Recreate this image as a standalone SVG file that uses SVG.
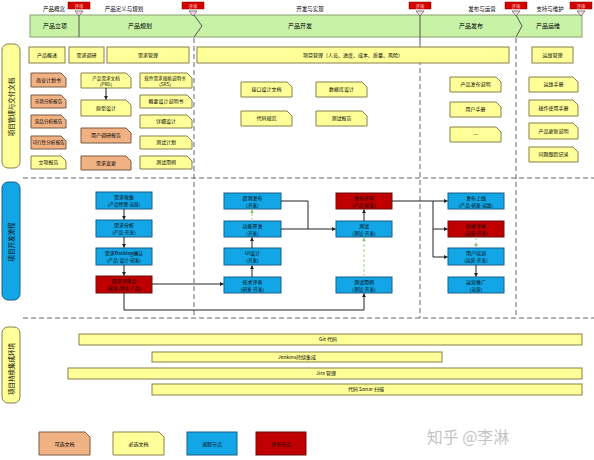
<svg xmlns="http://www.w3.org/2000/svg" width="594" height="460" viewBox="0 0 594 460">
<style>
text{font-family:"Noto Sans CJK SC","Liberation Sans",sans-serif;font-size:5px;text-anchor:middle;fill:#000}
.y{fill:#ffff99;stroke:#85804a;stroke-width:1}
.o{fill:#f0b183;stroke:#7a5a40;stroke-width:1}
.b{fill:#12a6e6;stroke:#1d5f86;stroke-width:1}
.r{fill:#c00000;stroke:#6a1010;stroke-width:1}
.dl{stroke:#666;stroke-width:1;stroke-dasharray:5,3;fill:none}
.c{stroke:#222;stroke-width:1;fill:none}
.g{stroke:#9fd48a;stroke-width:1;stroke-dasharray:3,2;fill:none}
.tag{fill:#d40000;stroke:#800;stroke-width:0.5}
.tri{fill:#ffd8e6;stroke:#555;stroke-width:0.7}
.ml{font-size:5.5px}
.ph{font-size:6px}
.lab{font-size:6.5px}
.tt{font-size:4.5px;fill:#ffd0d0}
.s{font-size:4.6px}
</style>
<defs>
<marker id="a" viewBox="0 0 6 6" refX="5.5" refY="3" markerWidth="4" markerHeight="4" orient="auto"><path d="M0,0L6,3L0,6Z" fill="#222"/></marker>
<marker id="ag" viewBox="0 0 6 6" refX="5.5" refY="3" markerWidth="4" markerHeight="4" orient="auto"><path d="M0,0L6,3L0,6Z" fill="#8cc870"/></marker>
</defs>
<rect width="594" height="460" fill="#fff"/>

<!-- header -->
<g id="phases">
<rect x="30" y="15" width="552" height="22" fill="#c8f2a6" stroke="#8aa070"/>
<line x1="79" y1="12" x2="79" y2="37" stroke="#555"/>
<line x1="420" y1="12" x2="420" y2="44" stroke="#555"/>
<line x1="581" y1="12" x2="581" y2="15" stroke="#555"/>
<polyline points="194,15 202,26 194,37" fill="none" stroke="#555"/>
<polyline points="516,15 522,26 516,37" fill="none" stroke="#555"/>
<text class="ph" x="55" y="28">产品立项</text>
<text class="ph" x="140" y="28">产品规划</text>
<text class="ph" x="300" y="28">产品开发</text>
<text class="ph" x="471" y="28">产品发布</text>
<text class="ph" x="548" y="28">产品运维</text>
</g>
<g id="milestones">
<text class="ml" x="54" y="11">产品概念</text>
<text class="ml" x="124" y="11">产品定义与规划</text>
<text class="ml" x="310" y="11">开发与实现</text>
<text class="ml" x="482" y="11">发布与运营</text>
<text class="ml" x="550" y="11">支持与维护</text>
<rect class="tag" x="68" y="2" width="22" height="7"/><text class="tt" x="79" y="7.5">评审</text>
<rect class="tag" x="182" y="2" width="22" height="7"/><text class="tt" x="193" y="7.5">评审</text>
<rect class="tag" x="409" y="2" width="22" height="7"/><text class="tt" x="420" y="7.5">评审</text>
<rect class="tag" x="505" y="2" width="22" height="7"/><text class="tt" x="516" y="7.5">评审</text>
<rect class="tag" x="570" y="2" width="22" height="7"/><text class="tt" x="581" y="7.5">评审</text>
<polygon class="tri" points="75,11 83,11 79,16"/>
<polygon class="tri" points="189,11 197,11 193,16"/>
<polygon class="tri" points="416,11 424,11 420,16"/>
<polygon class="tri" points="512,11 520,11 516,16"/>
<polygon class="tri" points="577,11 585,11 581,16"/>
</g>

<!-- dividers -->
<g id="dividers">
<line class="dl" x1="194" y1="38" x2="194" y2="318"/>
<line class="dl" x1="420" y1="44" x2="420" y2="318"/>
<line class="dl" x1="516" y1="38" x2="516" y2="318"/>
<line class="dl" x1="23" y1="178" x2="594" y2="178"/>
<line class="dl" x1="23" y1="318" x2="594" y2="318"/>
</g>

<!-- section labels -->
<g id="lane1"><rect x="2" y="44" width="18" height="124" rx="6" class="y"/><text class="lab" transform="translate(13.5,107) rotate(-90)">项目管理与交付文档</text></g>
<g id="lane2"><rect x="2" y="182" width="18" height="118" rx="6" class="b"/><text class="lab" transform="translate(13.5,242) rotate(-90)">项目开发流程</text></g>
<g id="lane3"><rect x="2" y="327" width="18" height="76" rx="6" class="y"/><text class="lab" transform="translate(13.5,369) rotate(-90)">项目持续集成环境</text></g>

<!-- row 1 bars -->
<g id="n_gaishu"><rect class="y" x="29" y="47" width="36" height="16"/><text x="47" y="57">产品概述</text></g>
<g id="n_diaoyan"><rect class="y" x="69" y="47" width="35" height="16"/><text x="86.5" y="57">需求调研</text></g>
<g id="n_guanli"><rect class="y" x="107" y="47" width="82" height="16"/><text x="148" y="57">需求管理</text></g>
<g id="n_xmgl"><rect class="y" x="197" y="47" width="312" height="16"/><text x="353" y="57">项目管理（人员、进度、成本、质量、风险）</text></g>
<g id="n_ywgl"><rect class="y" x="532" y="47" width="41" height="16"/><text x="552.5" y="57">运维管理</text></g>

<!-- column 1 docs -->
<g id="d1"><path class="o" d="M31,73H61L66,78V87H31Z"/><text x="48.5" y="81.8">商业计划书</text></g>
<g id="d2"><path class="o" d="M31,95H61L66,100V108H31Z"/><text x="48.5" y="103.3" class="s">市场分析报告</text></g>
<g id="d3"><path class="o" d="M31,115H61L66,120V128H31Z"/><text x="48.5" y="123.3" class="s">竞品分析报告</text></g>
<g id="d4"><path class="o" d="M31,136H61L66,141V149H31Z"/><text x="48.5" y="144.3" class="s">可行性分析报告</text></g>
<g id="d5"><path class="y" d="M31,156H61L66,161V169H31Z"/><text x="48.5" y="164.3">立项报告</text></g>
<!-- column 2 -->
<g id="d6"><path class="y" d="M81,73H126L131,78V88H81Z"/><text x="106" y="79.5" class="s">产品需求文档</text><text x="106" y="85.5" class="s">（PRD）</text></g>
<g id="d7"><path class="y" d="M81,100H126L131,105V116H81Z"/><text x="106" y="109.8">原型设计</text></g>
<g id="d8"><path class="o" d="M81,128H126L131,133V143H81Z"/><text x="106" y="137.3">用户调研报告</text></g>
<g id="d9"><path class="o" d="M81,156H126L131,161V170H81Z"/><text x="106" y="164.8">需求变更</text></g>
<!-- column 3 -->
<g id="d10"><path class="y" d="M140,73H187L192,78V88H140Z"/><text x="165" y="79.5" class="s">软件需求规格说明书</text><text x="165" y="85.5" class="s">（SRS）</text></g>
<g id="d11"><path class="y" d="M140,95H187L192,100V108H140Z"/><text x="166" y="103.3">概要设计说明书</text></g>
<g id="d12"><path class="y" d="M140,115H187L192,120V128H140Z"/><text x="166" y="123.3">详细设计</text></g>
<g id="d13"><path class="y" d="M140,136H187L192,141V149H140Z"/><text x="166" y="144.3">测试计划</text></g>
<g id="d14"><path class="y" d="M140,156H187L192,161V169H140Z"/><text x="166" y="164.3">测试用例</text></g>
<!-- dev -->
<g id="d15"><path class="y" d="M241,82H287L292,87V97H241Z"/><text x="266.5" y="91.3">接口设计文档</text></g>
<g id="d16"><path class="y" d="M241,111H287L292,116V126H241Z"/><text x="266.5" y="120.3">代码规范</text></g>
<g id="d17"><path class="y" d="M316,82H362L367,87V97H316Z"/><text x="341.5" y="91.3">数据库设计</text></g>
<g id="d18"><path class="y" d="M316,111H362L367,116V126H316Z"/><text x="341.5" y="120.3">测试报告</text></g>
<!-- release -->
<g id="d19"><path class="y" d="M450,77H496L501,82V92H450Z"/><text x="475.5" y="86.3">产品发布说明</text></g>
<g id="d20"><path class="y" d="M450,102H496L501,107V117H450Z"/><text x="475.5" y="111.3">用户手册</text></g>
<g id="d21"><path class="y" d="M450,127H496L501,132V142H450Z"/><text x="475.5" y="136.3">…</text></g>
<!-- maintenance -->
<g id="d22"><path class="y" d="M529,77H573L578,82V92H529Z"/><text x="553.5" y="86.3">运维手册</text></g>
<g id="d23"><path class="y" d="M529,100H573L578,105V116H529Z"/><text x="553.5" y="109.8">操作使用手册</text></g>
<g id="d24"><path class="y" d="M529,123H573L578,128V139H529Z"/><text x="553.5" y="132.8">产品更新说明</text></g>
<g id="d25"><path class="y" d="M529,147H573L578,152V162H529Z"/><text x="553.5" y="156.3">问题跟踪记录</text></g>

<!-- process nodes -->
<g id="p1"><rect class="b" x="96" y="192" width="56" height="17"/><text x="124" y="199.3">需求收集</text><text x="124" y="206" class="s">（产品经理-运营）</text></g>
<g id="p2"><rect class="b" x="96" y="220" width="56" height="17"/><text x="124" y="227.3">需求分析</text><text x="124" y="234" class="s">（产品-开发）</text></g>
<g id="p3"><rect class="b" x="96" y="248" width="56" height="17"/><text x="124" y="255.3">需求Backlog确认</text><text x="124" y="262" class="s">（产品-设计-研发）</text></g>
<g id="p4"><rect class="r" x="96" y="276" width="56" height="17"/><text x="124" y="283.3">需求评审会</text><text x="124" y="290" class="s">（研发-测试-产品）</text></g>
<g id="p5"><rect class="b" x="224" y="193" width="57" height="16"/><text x="252.5" y="200">提测发布</text><text x="252.5" y="206.5" class="s">（开发）</text></g>
<g id="p6"><rect class="b" x="224" y="221" width="57" height="16"/><text x="252.5" y="228">功能开发</text><text x="252.5" y="234.5" class="s">（开发）</text></g>
<g id="p7"><rect class="b" x="224" y="248" width="57" height="17"/><text x="252.5" y="255.3">UI设计</text><text x="252.5" y="262" class="s">（开发）</text></g>
<g id="p8"><rect class="b" x="224" y="277" width="57" height="16"/><text x="252.5" y="284">技术评审</text><text x="252.5" y="290.5" class="s">（研发-开发）</text></g>
<g id="p9"><rect class="r" x="336" y="193" width="56" height="16"/><text x="364" y="200">发布评审</text><text x="364" y="206.5" class="s">（产品-研发）</text></g>
<g id="p10"><rect class="b" x="336" y="221" width="56" height="16"/><text x="364" y="228">测试</text><text x="364" y="234.5" class="s">（测试-开发）</text></g>
<g id="p11"><rect class="b" x="336" y="277" width="56" height="16"/><text x="364" y="284">测试用例</text><text x="364" y="290.5" class="s">（测试-开发）</text></g>
<g id="p12"><rect class="b" x="448" y="193" width="56" height="16"/><text x="476" y="200">发布上线</text><text x="476" y="206.5" class="s">（产品-研发-运维）</text></g>
<g id="p13"><rect class="r" x="448" y="221" width="56" height="16"/><text x="476" y="228">验收评审</text><text x="476" y="234.5" class="s">（运营-开发）</text></g>
<g id="p14"><rect class="b" x="448" y="248" width="56" height="17"/><text x="476" y="255.3">用户培训</text><text x="476" y="262" class="s">（运营-开发）</text></g>
<g id="p15"><rect class="b" x="448" y="277" width="56" height="16"/><text x="476" y="284">运营推广</text><text x="476" y="290.5" class="s">（运营）</text></g>

<!-- connectors -->
<g id="connectors">
<line class="c" x1="106" y1="88" x2="106" y2="99.5" marker-end="url(#a)"/>
<line class="c" x1="124" y1="209" x2="124" y2="219.5" marker-end="url(#a)"/>
<line class="c" x1="124" y1="237" x2="124" y2="247.5" marker-end="url(#a)"/>
<line class="c" x1="124" y1="265" x2="124" y2="275.5" marker-end="url(#a)"/>
<polyline class="c" points="124,293 124,310 364,310 364,293.5" marker-end="url(#a)"/>
<line class="c" x1="152" y1="284" x2="223.5" y2="284" marker-end="url(#a)"/>
<line class="c" x1="252" y1="277" x2="252" y2="265.5" marker-end="url(#a)"/>
<line class="c" x1="252" y1="248" x2="252" y2="237.5" marker-end="url(#a)"/>
<line class="g" x1="252" y1="221" x2="252" y2="209.5" marker-end="url(#ag)"/>
<polyline class="c" points="281,201 308,201 308,229"/>
<line class="c" x1="281" y1="229" x2="335.5" y2="229" marker-end="url(#a)"/>
<line class="c" x1="364" y1="221" x2="364" y2="209.5" marker-end="url(#a)"/>
<line class="g" x1="364" y1="277" x2="364" y2="237.5" marker-end="url(#ag)"/>
<line class="c" x1="392" y1="201" x2="447.5" y2="201" marker-end="url(#a)"/>
<polyline class="c" points="433,201 433,229 447.5,229" marker-end="url(#a)"/>
<polyline class="c" points="433,229 433,257 447.5,257" marker-end="url(#a)"/>
<line class="g" x1="476" y1="237" x2="476" y2="247.5" marker-end="url(#ag)"/>
<line class="c" x1="476" y1="265" x2="476" y2="276.5" marker-end="url(#a)"/>
</g>

<!-- tool bars -->
<g id="t1"><rect class="y" x="79" y="334" width="503" height="11"/><text x="328" y="341.3">Git 代码</text></g>
<g id="t2"><rect class="y" x="152" y="352" width="290" height="10"/><text x="297" y="358.8">Jenkins持续集成</text></g>
<g id="t3"><rect class="y" x="68" y="368" width="514" height="11"/><text x="326" y="375.3">Jira 管理</text></g>
<g id="t4"><rect class="y" x="152" y="384" width="430" height="11"/><text x="366" y="391.3">代码 Sonar 扫描</text></g>

<!-- legend -->
<g id="legend_o"><path class="o" d="M39,432H85L90,437V455H39Z"/><text x="64.5" y="445.5">可选文档</text></g>
<g id="legend_y"><path class="y" d="M113,432H159L164,437V455H113Z"/><text x="138.5" y="445.5">必选文档</text></g>
<g id="legend_b"><rect class="b" x="187" y="432" width="50" height="23"/><text x="212" y="445.5">流程节点</text></g>
<g id="legend_r"><rect class="r" x="256" y="432" width="50" height="23"/><text x="281" y="445.5">评审节点</text></g>
<text x="468" y="443" style="font-size:16px;fill:#c4c4c4">知乎 @李淋</text>
</svg>
